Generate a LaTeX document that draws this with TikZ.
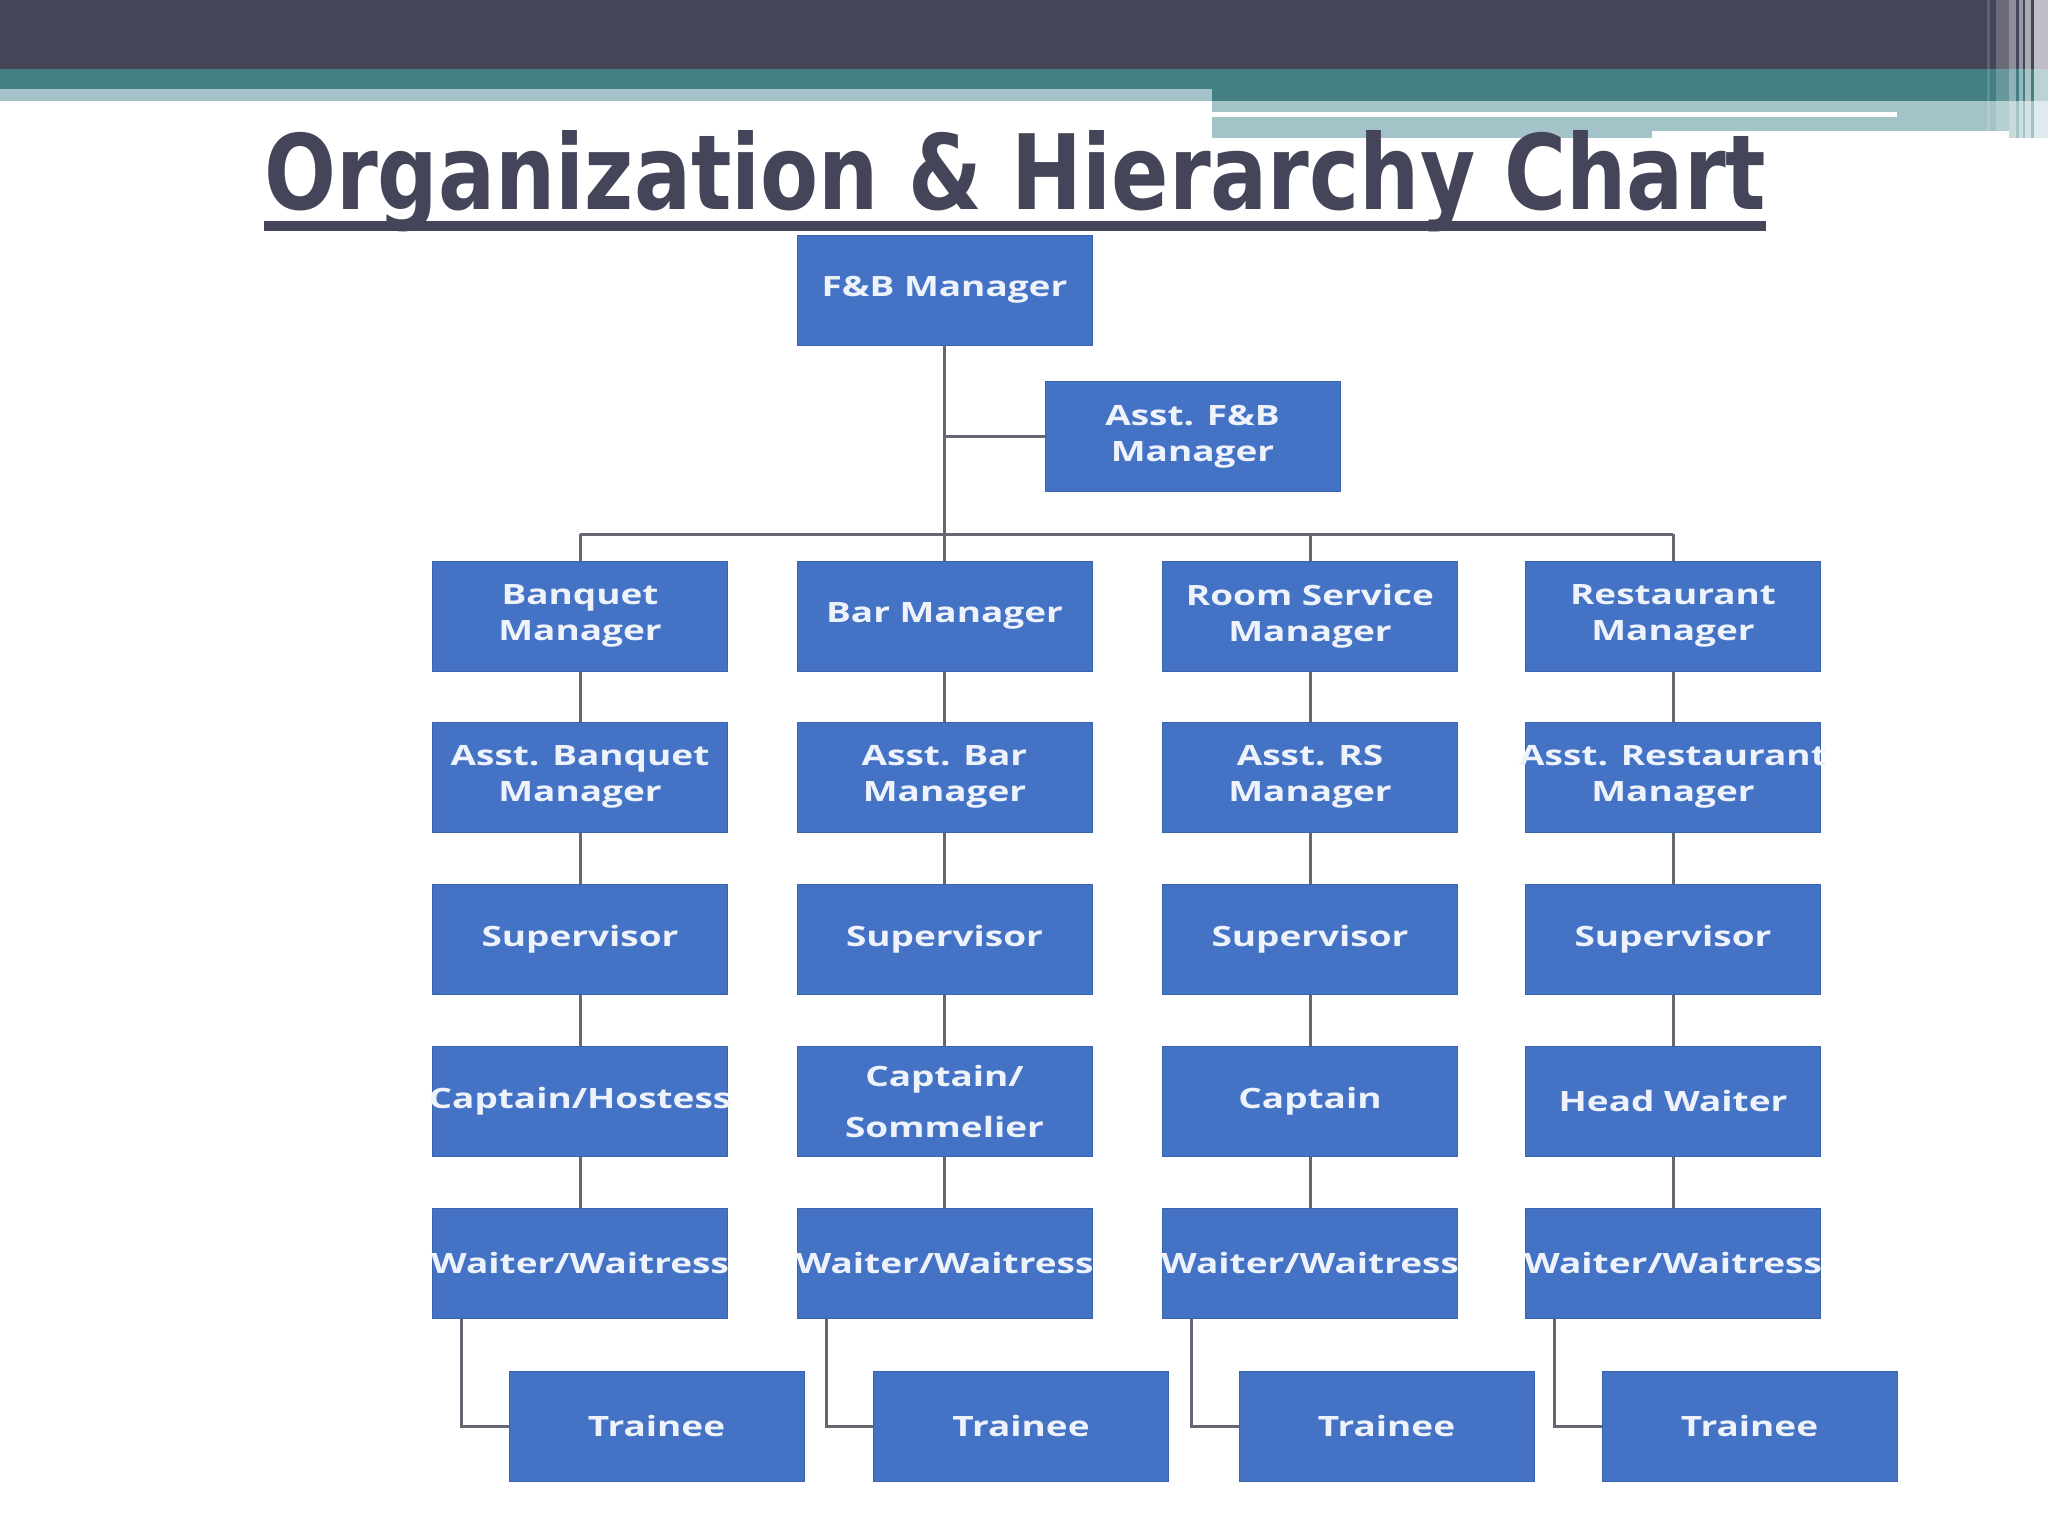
\documentclass[tikz,border=0pt]{standalone}
\usepackage{fontspec}
\usepackage{graphicx}
\setmainfont{Open Sans}[FakeStretch=1.32]
\newfontfamily\titlefont{DejaVu Sans}
\newcommand{\ovl}[1]{\makebox[0pt][c]{#1}}
\definecolor{darkbar}{HTML}{454558}
\definecolor{tealbar}{HTML}{447F84}
\definecolor{lightbar}{HTML}{A3C3C8}
\definecolor{titlecol}{HTML}{45455A}
\definecolor{boxblue}{HTML}{4472C4}
\definecolor{boxedge}{HTML}{3A64AE}
\definecolor{boxtext}{HTML}{EEF3FB}
\definecolor{conncol}{HTML}{666675}
\tikzset{
  orgbox/.style={fill=boxblue, draw=boxedge, line width=1pt, minimum width=295pt,
    minimum height=110pt, inner sep=0pt, align=center, text=boxtext,
    font=\bfseries\fontsize{28}{36}\selectfont},
  conn/.style={draw=conncol, line width=3pt},
}
\begin{document}
\begin{tikzpicture}[x=1pt,y=-1pt]
\useasboundingbox (0,0) rectangle (2048,1536);
\fill[white] (0,0) rectangle (2048,1536);
% header bars
\fill[darkbar] (0,0) rectangle (2048,69);
\fill[tealbar] (0,69) rectangle (1212,89);
\fill[lightbar] (0,89) rectangle (1212,101);
\fill[tealbar] (1212,69) rectangle (2048,101);
\fill[lightbar] (1212,101) rectangle (1652,138);
\fill[lightbar] (1652,101) rectangle (2009,131);
\fill[lightbar] (2009,101) rectangle (2048,138);
\fill[white] (1212,112) rectangle (1897,117);
% right edge stripes
\fill[white,opacity=0.15] (1987,0) rectangle (1990,131);
\fill[white,opacity=0.2] (1996,0) rectangle (2009,131);
\fill[white,opacity=0.4] (2009,0) rectangle (2016,138);
\fill[white,opacity=0.45] (2019,0) rectangle (2023,138);
\fill[white,opacity=0.55] (2025,0) rectangle (2031,138);
\fill[white,opacity=0.65] (2034,0) rectangle (2048,138);
% title
\node[anchor=base west, inner sep=0pt, text=titlecol,
  font=\titlefont\bfseries\fontsize{104}{110}\selectfont] (title) at (264,209)
  {\resizebox{1502pt}{\height}{Organization \& Hierarchy Chart}};
\fill[titlecol] (264,221) rectangle (1766,231);
% top boxes
\node[orgbox] (fb) at (944.5,290) {F\&B Manager};
\node[orgbox] (afb) at (1192.5,436.5) {Asst. F\&B\\Manager};
% columns
\node[orgbox] (c1r1) at (580,616) {Banquet\\Manager};
\node[orgbox] (c2r1) at (944.5,616) {Bar Manager};
\node[orgbox] (c3r1) at (1310,616) {Room Service\\Manager};
\node[orgbox] (c4r1) at (1673,616) {Restaurant\\Manager};
\node[orgbox] (c1r2) at (580,777) {Asst. Banquet\\Manager};
\node[orgbox] (c2r2) at (944.5,777) {Asst. Bar\\Manager};
\node[orgbox] (c3r2) at (1310,777) {Asst. RS\\Manager};
\node[orgbox] (c4r2) at (1673,777) {\ovl{Asst. Restaurant}\\Manager};
\node[orgbox] (c1r3) at (580,939) {Supervisor};
\node[orgbox] (c2r3) at (944.5,939) {Supervisor};
\node[orgbox] (c3r3) at (1310,939) {Supervisor};
\node[orgbox] (c4r3) at (1673,939) {Supervisor};
\node[orgbox] (c1r4) at (580,1101) {\ovl{Captain/Hostess}};
\node[orgbox] (c2r4) at (944.5,1101) {Captain/\\[15pt]Sommelier};
\node[orgbox] (c3r4) at (1310,1101) {Captain};
\node[orgbox] (c4r4) at (1673,1101) {Head Waiter};
\node[orgbox] (c1r5) at (580,1263) {\ovl{Waiter/Waitress}};
\node[orgbox] (c2r5) at (944.5,1263) {\ovl{Waiter/Waitress}};
\node[orgbox] (c3r5) at (1310,1263) {\ovl{Waiter/Waitress}};
\node[orgbox] (c4r5) at (1673,1263) {\ovl{Waiter/Waitress}};
\node[orgbox] (t1) at (656.5,1426) {Trainee};
\node[orgbox] (t2) at (1021,1426) {Trainee};
\node[orgbox] (t3) at (1386.5,1426) {Trainee};
\node[orgbox] (t4) at (1749.5,1426) {Trainee};
% connectors
\coordinate (busL) at (580,534);
\coordinate (busR) at (1673,534);
\draw[conn] (fb.south) -- (fb.south |- busL);
\draw[conn] (fb.south |- afb.west) -- (afb.west);
\draw[conn] (busL) -- (busR);
\foreach \c in {1,2,3,4}{
  \draw[conn] (c\c r1.north |- busL) -- (c\c r1.north);
  \draw[conn] (c\c r1.south) -- (c\c r2.north);
  \draw[conn] (c\c r2.south) -- (c\c r3.north);
  \draw[conn] (c\c r3.south) -- (c\c r4.north);
  \draw[conn] (c\c r4.south) -- (c\c r5.north);
  \draw[conn] ([xshift=-118.5pt]c\c r5.south) |- (t\c.west);
}
\end{tikzpicture}
\end{document}
